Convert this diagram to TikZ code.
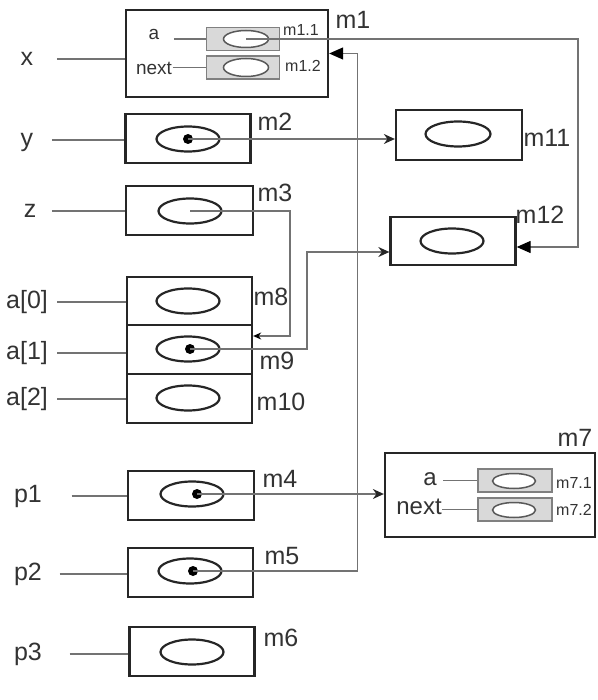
\documentclass[tikz,border=0pt]{standalone}
\usepackage{fontspec}
\setmainfont{Liberation Sans}
\usetikzlibrary{arrows.meta,shapes.geometric}

\tikzset{every picture/.style={line width=0.6pt}}
\tikzset{
	memcell/.style={draw=black!85, line width=1.15pt, minimum width=62.5pt, minimum height=24.5pt, inner sep=0pt},
	blob/.style={ellipse, draw=black!85, line width=1.1pt, minimum width=31.5pt, minimum height=12.5pt, inner sep=0pt},
	field/.style={draw=black!50, fill=black!15, line width=0.7pt, minimum width=36.5pt, minimum height=11.5pt, inner sep=0pt},
	fblob/.style={ellipse, draw=black!65, fill=white, line width=0.75pt, minimum width=22pt, minimum height=8.5pt, inner sep=0pt},
	ptrdot/.style={circle, fill=black, minimum size=5pt, inner sep=0pt},
	varname/.style={inner sep=0pt, text=black!80, text height=9pt, text depth=2.6pt, font=\fontsize{12.5}{14}\selectfont},
	fieldname/.style={inner sep=0pt, text=black!80},
	boxtag/.style={inner sep=0pt, text=black!80, font=\fontsize{12.5}{14}\selectfont},
	ftag/.style={inner sep=0pt, text=black!80, font=\fontsize{8}{9}\selectfont},
	wire/.style={draw=black!55, line width=0.65pt},
}

\begin{document}
\begin{tikzpicture}[x=0.5pt,y=-0.5pt,>={Stealth[length=5.5pt,width=5pt,color=black!85]}]
	\useasboundingbox (0,0) rectangle (598,700);
	%Khung m1
	\node[memcell, minimum width=101pt, minimum height=43.5pt] (m1) at (227,53.5) {};
	\node[field] (f11) at (243,39) {};
	\node[field] (f12) at (243,67.5) {};
	\node[fblob, minimum width=22.5pt] (e11) at (246,39) {};
	\node[fblob, minimum width=22.5pt, minimum height=9pt] (e12) at (246,67.5) {};
	\node[fieldname, font=\fontsize{9.5}{10}\selectfont] (a1) at (154,34) {a};
	\node[fieldname, font=\fontsize{9.5}{10}\selectfont] (n1) at (154,68) {next};
	\node[boxtag] (t1) at (353,19.5) {m1};
	\node[ftag] (t11) at (301,30) {m1.1};
	\node[ftag] (t12) at (303,66) {m1.2};
	%Khung m2, m3
	\node[memcell] (m2) at (188,138.5) {};
	\node[blob] (e2) at (188,139) {};
	\node[ptrdot] (d2) at (188,139) {};
	\node[boxtag] (t2) at (275,122) {m2};
	\node[memcell, minimum width=63.5pt] (m3) at (189.5,210.5) {};
	\node[blob] (e3) at (190,211) {};
	\node[boxtag] (t3) at (275,193) {m3};
	%Mang a
	\node[memcell, minimum height=24pt] (m8) at (189.5,301) {};
	\node[memcell] (m9) at (189.5,349.5) {};
	\node[memcell] (m10) at (189.5,398.5) {};
	\node[blob] (e8) at (188,301) {};
	\node[blob] (e9) at (188,349) {};
	\node[blob] (e10) at (188,398) {};
	\node[ptrdot] (d9) at (190,349) {};
	\node[boxtag] (t8) at (271,297) {m8};
	\node[boxtag] (t9) at (277,361) {m9};
	\node[boxtag] (t10) at (281,402) {m10};
	%Khung m4, m5, m6
	\node[memcell, minimum width=63pt] (m4) at (191,495.5) {};
	\node[memcell] (m5) at (190.5,572.5) {};
	\node[memcell] (m6) at (192,651.5) {};
	\node[blob] (e4) at (192,494) {};
	\node[blob] (e5) at (190,571) {};
	\node[blob] (e6) at (192,652) {};
	\node[ptrdot] (d4) at (197,494) {};
	\node[ptrdot] (d5) at (193,571) {};
	\node[boxtag] (t4) at (280,479) {m4};
	\node[boxtag] (t5) at (282,556) {m5};
	\node[boxtag] (t6) at (281,638) {m6};
	%Khung m11, m12
	\node[memcell, minimum width=63pt, minimum height=25pt] (m11) at (459,135) {};
	\node[blob, minimum width=32.5pt] (e11b) at (458,134) {};
	\node[boxtag] (t11b) at (547,138) {m11};
	\node[memcell, minimum height=24pt] (m12) at (453,241) {};
	\node[blob] (e12b) at (452,241) {};
	\node[boxtag] (t12b) at (540,215) {m12};
	%Khung m7
	\node[memcell, minimum width=105pt, minimum height=42pt] (m7) at (490,495) {};
	\node[field, minimum width=37pt] (f71) at (515,480.5) {};
	\node[field, minimum width=37pt] (f72) at (515,509.5) {};
	\node[fblob, minimum width=21.5pt, minimum height=7.5pt] (e71) at (514,481) {};
	\node[fblob, minimum width=21.5pt, minimum height=7.5pt] (e72) at (514,510) {};
	\node[fieldname, font=\fontsize{12}{13}\selectfont] (a7) at (430,479) {a};
	\node[fieldname, font=\fontsize{12}{13}\selectfont] (n7) at (419,507) {next};
	\node[boxtag] (t7) at (575,438) {m7};
	\node[ftag] (t71) at (574,483) {m7.1};
	\node[ftag] (t72) at (574,510) {m7.2};
	%Ten bien
	\node[varname] (vx) at (27,59) {x};
	\node[varname] (vy) at (27,140) {y};
	\node[varname] (vz) at (30,211) {z};
	\node[varname] (va0) at (27,302) {a[0]};
	\node[varname] (va1) at (27,353) {a[1]};
	\node[varname] (va2) at (27,399) {a[2]};
	\node[varname] (vp1) at (28,496) {p1};
	\node[varname] (vp2) at (28,574) {p2};
	\node[varname] (vp3) at (28,654) {p3};
	%Duong noi ten bien
	\draw[wire, shorten <=11.5pt] (vx.east) -- (vx.east -| m1.west);
	\draw[wire, shorten <=9pt] (vy.east) -- (vy.east -| m2.west);
	\draw[wire, shorten <=7.5pt] (vz.east) -- (vz.east -| m3.west);
	\draw[wire, shorten <=4.5pt] (va0.east) -- (va0.east -| m8.west);
	\draw[wire, shorten <=4.5pt] (va1.east) -- (va1.east -| m9.west);
	\draw[wire, shorten <=4.5pt] (va2.east) -- (va2.east -| m10.west);
	\draw[wire, shorten <=14.5pt] (vp1.east) -- (vp1.east -| m4.west);
	\draw[wire, shorten <=8.5pt] (vp2.east) -- (vp2.east -| m5.west);
	\draw[wire, shorten <=13.5pt] (vp3.east) -- (vp3.east -| m6.west);
	%Duong noi truong
	\draw[wire, shorten <=7pt] (a1.east |- f11.west) -- (f11.west);
	\draw[wire] (n1.east |- f12.west) -- (f12.west);
	\draw[wire, shorten <=3pt] (a7.east |- f71.west) -- (f71.west);
	\draw[wire] (n7.east |- f72.west) -- (f72.west);
	%Con tro
	\coordinate (b11) at (578,247);
	\coordinate (b3) at (290,336);
	\coordinate (b9) at (307,252);
	\draw[wire, -{Triangle[length=7pt,width=6pt,color=black]}] (e11.center) -| (b11) -- (b11 -| m12.east);
	\draw[wire, -{Triangle[length=7pt,width=6pt,color=black]}] (d5.center) -| ([xshift=14pt]m1.east) -- (m1.east);
	\draw[wire, ->] (d2.center) -- (d2.center -| m11.west);
	\draw[wire, -{Stealth[length=4pt,width=3.5pt,color=black]}] (e3.center) -| (b3) -- (b3 -| m9.east);
	\draw[wire, ->] (d9.center) -| (b9) -- (b9 -| m12.west);
	\draw[wire, ->] (d4.center) -- (d4.center -| m7.west);
\end{tikzpicture}
\end{document}
